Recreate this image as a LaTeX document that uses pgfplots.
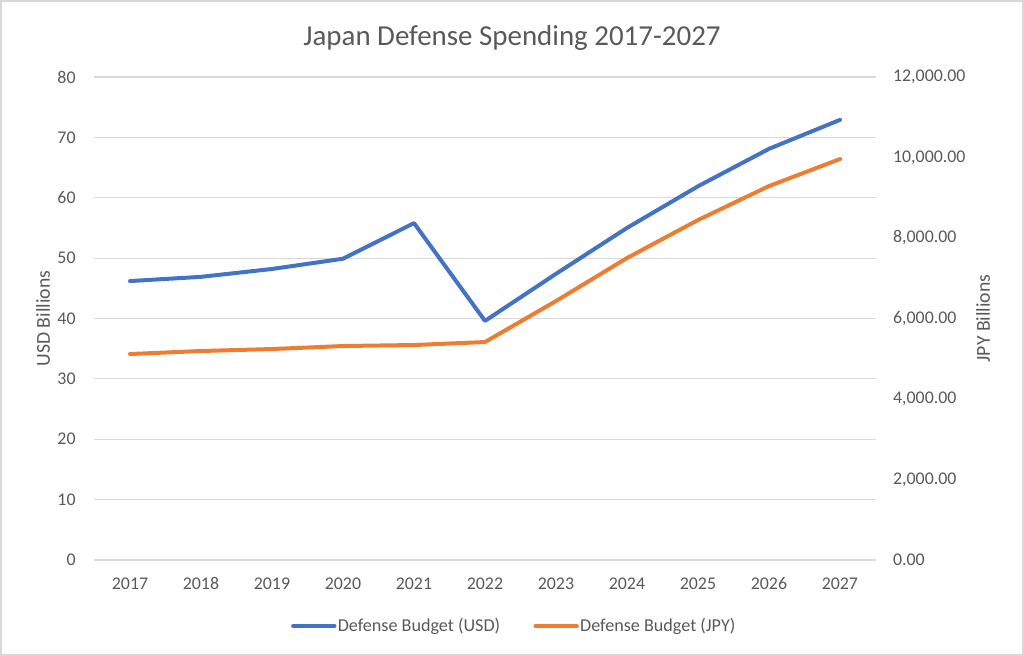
\documentclass[border=0pt]{standalone}
\usepackage{pgfplots}
\pgfplotsset{compat=1.18}
\usepackage{pgfplotstable}
\usepackage{fontspec}
\setmainfont{Carlito}

\definecolor{usdblue}{HTML}{4472C4}
\definecolor{jpyorange}{HTML}{ED7D31}
\definecolor{txtgray}{HTML}{595959}
\definecolor{gridgray}{HTML}{D9D9D9}

% USD and JPY budgets, in billions
\pgfplotstableread{
year usd  jpy
2017 46.2 5117
2018 46.9 5192
2019 48.2 5241
2020 49.9 5316
2021 55.8 5341
2022 39.6 5415
2023 47.4 6434
2024 55.0 7502
2025 61.9 8446
2026 68.1 9290
2027 72.9 9961
}\budget

\pgfplotsset{
  frame/.style={
    scale only axis,
    width=585.75pt, height=362.25pt,
    at={(70.875pt,72pt)}, anchor=south west,
    xmin=2016.5, xmax=2027.5,
    axis line style={draw=none},
    tick style={draw=none},
    scaled ticks=false,
    /pgf/number format/assume math mode=true,
    tick label style={font=\fontsize{13.4}{15}\selectfont, text=txtgray, inner sep=0pt},
  },
  series/.style={line width=3pt, line cap=round, line join=round},
}

\begin{document}
\begin{tikzpicture}[x=0.75pt,y=0.75pt]
\useasboundingbox (0,0) rectangle (1024,656);
\draw[gridgray, line width=1.2pt] (1,1) rectangle (1023,655);

\node[text=txtgray, font=\fontsize{21.7}{25}\selectfont] at (512,618) {Japan Defense Spending 2017-2027};
\node[text=txtgray, font=\fontsize{14.8}{17}\selectfont, rotate=90] at (43,337.5) {USD Billions};
\node[text=txtgray, font=\fontsize{14.8}{17}\selectfont, rotate=90] at (983,337.5) {JPY Billions};

\begin{axis}[
  frame,
  axis y line*=left,
  axis x line*=bottom,
  ymin=0, ymax=80,
  ytick={0,10,...,80},
  xtick={2017,...,2027},
  xticklabels={2017,2018,2019,2020,2021,2022,2023,2024,2025,2026,2027},
  xticklabel style={anchor=base, yshift=-22pt},
  yticklabel style={anchor=east, xshift=-14pt},
  ymajorgrids,
  grid style={gridgray, line width=0.9pt},
]
\addplot[series, usdblue] table[x=year, y=usd] {\budget};
\end{axis}

\begin{axis}[
  frame,
  axis y line*=right,
  axis x line=none,
  ymin=0, ymax=12000,
  ytick={0,2000,...,12000},
  yticklabel style={anchor=west, xshift=13pt},
  /pgf/number format/fixed,
  /pgf/number format/fixed zerofill,
  /pgf/number format/precision=2,
  /pgf/number format/1000 sep={,},
  legend columns=2,
  legend style={at={(rel axis cs:0.537,-0.1366)}, anchor=center, draw=none, fill=none,
    font=\fontsize{13.6}{16}\selectfont, text=txtgray,
    nodes={inner sep=1pt},
    /tikz/every even column/.append style={column sep=24pt}},
  legend image code/.code={\draw[#1] (0pt,0pt) -- (31pt,0pt);},
]
\addlegendimage{series, usdblue}
\addlegendentry{Defense Budget (USD)}
\addplot[series, jpyorange] table[x=year, y=jpy] {\budget};
\addlegendentry{Defense Budget (JPY)}
\end{axis}
\end{tikzpicture}
\end{document}
